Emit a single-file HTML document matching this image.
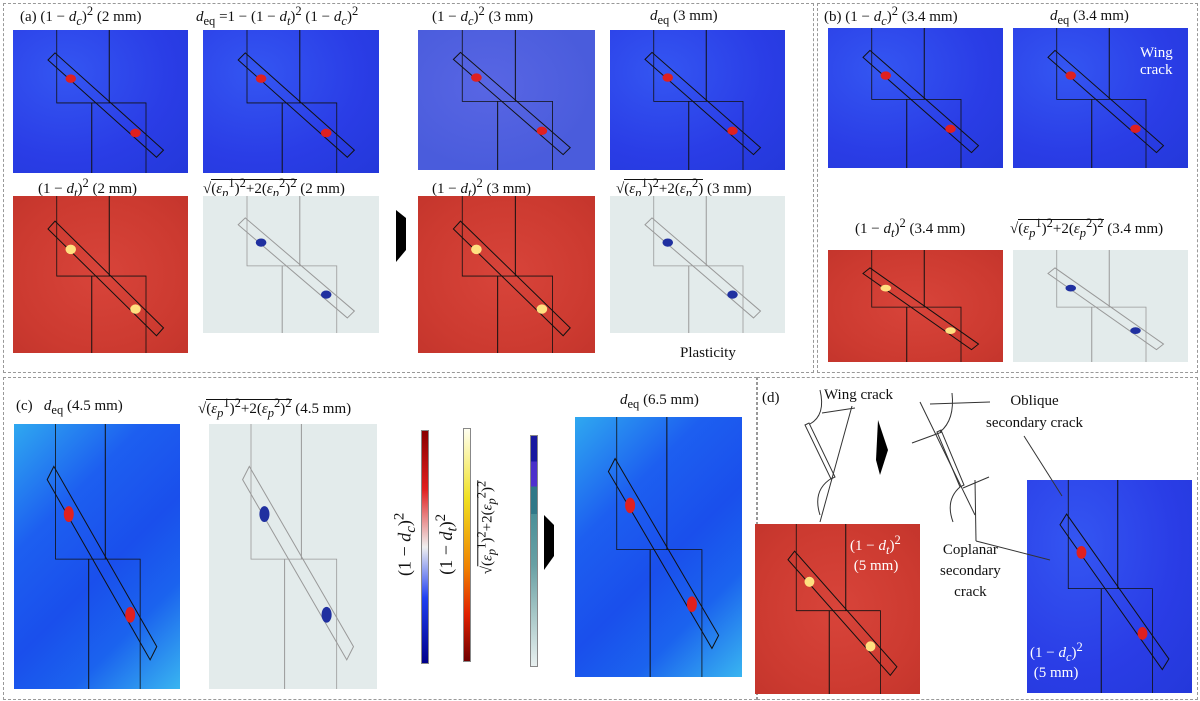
<!DOCTYPE html>
<html><head><meta charset="utf-8"><style>
body{margin:0;background:#fff;width:1200px;height:701px;position:relative;overflow:hidden;font-family:"Liberation Serif",serif;color:#111}
.box{position:absolute;border:1px dashed #999}
.img{position:absolute;overflow:hidden}
.img svg{position:absolute;left:0;top:0;width:100%;height:100%}
.t{position:absolute;font-size:15px;white-space:nowrap}
i{font-style:italic}
.rt{border-top:1px solid #111;padding-top:1px}
.blue{background:radial-gradient(ellipse at 30% 30%,#3456f2,#2a3de6 60%,#2438da)}
.blue2{background:radial-gradient(ellipse at 40% 40%,#5866e4,#4a5cdc 70%)}
.red{background:radial-gradient(ellipse at 50% 50%,#d8443a,#cc3a30 70%,#c4352c)}
.gray{background:#e3ebeb}
.cyan{background:linear-gradient(135deg,#2fa8f0 0%,#1d5ff0 30%,#1a4fec 55%,#1b63ee 75%,#39b5f0 100%)}
.cb{position:absolute;width:6px;border:1px solid #888}
</style></head><body>
<div class="box" style="left:3px;top:3px;width:809px;height:368px"></div>
<div class="box" style="left:817px;top:3px;width:379px;height:368px"></div>
<div class="box" style="left:3px;top:377px;width:752px;height:321px"></div>
<div class="box" style="left:757px;top:377px;width:439px;height:321px"></div>

<div class="t" style="left:20px;top:4px">(a) (1 − <i>d<sub>c</sub></i>)<sup>2</sup> (2 mm)</div>
<div class="t" style="left:196px;top:4px"><i>d</i><sub>eq</sub> =1 − (1 − <i>d<sub>t</sub></i>)<sup>2</sup> (1 − <i>d<sub>c</sub></i>)<sup>2</sup></div>
<div class="t" style="left:432px;top:4px">(1 − <i>d<sub>c</sub></i>)<sup>2</sup> (3 mm)</div>
<div class="t" style="left:650px;top:8px"><i>d</i><sub>eq</sub> (3 mm)</div>
<div class="t" style="left:38px;top:176px">(1 − <i>d<sub>t</sub></i>)<sup>2</sup> (2 mm)</div>
<div class="t" style="left:203px;top:176px">√<span class="rt">(<i>ε<sub>p</sub></i><sup>1</sup>)<sup>2</sup>+2(<i>ε<sub>p</sub></i><sup>2</sup>)<sup>2</sup></span> (2 mm)</div>
<div class="t" style="left:432px;top:176px">(1 − <i>d<sub>t</sub></i>)<sup>2</sup> (3 mm)</div>
<div class="t" style="left:616px;top:176px">√<span class="rt">(<i>ε<sub>p</sub></i><sup>1</sup>)<sup>2</sup>+2(<i>ε<sub>p</sub></i><sup>2</sup>)</span> (3 mm)</div>
<div class="t" style="left:680px;top:345px">Plasticity</div>

<div class="t" style="left:824px;top:4px">(b) (1 − <i>d<sub>c</sub></i>)<sup>2</sup> (3.4 mm)</div>
<div class="t" style="left:1050px;top:8px"><i>d</i><sub>eq</sub> (3.4 mm)</div>
<div class="t" style="left:855px;top:216px">(1 − <i>d<sub>t</sub></i>)<sup>2</sup> (3.4 mm)</div>
<div class="t" style="left:1010px;top:216px">√<span class="rt">(<i>ε<sub>p</sub></i><sup>1</sup>)<sup>2</sup>+2(<i>ε<sub>p</sub></i><sup>2</sup>)<sup>2</sup></span> (3.4 mm)</div>

<div class="t" style="left:16px;top:398px">(c) &nbsp;&nbsp;<i>d</i><sub>eq</sub> (4.5 mm)</div>
<div class="t" style="left:198px;top:396px">√<span class="rt">(<i>ε<sub>p</sub></i><sup>1</sup>)<sup>2</sup>+2(<i>ε<sub>p</sub></i><sup>2</sup>)<sup>2</sup></span> (4.5 mm)</div>
<div class="t" style="left:620px;top:392px"><i>d</i><sub>eq</sub> (6.5 mm)</div>

<div class="t" style="left:762px;top:390px">(d)</div>
<div class="t" style="left:824px;top:387px">Wing crack</div>
<div class="t" style="left:986px;top:390px;text-align:center;line-height:22px">Oblique<br>secondary crack</div>
<div class="t" style="left:940px;top:540px;text-align:center;line-height:21px">Coplanar<br>secondary<br>crack</div>

<div id="imgs"></div>

<div class="cb" style="left:421px;top:430px;height:232px;background:linear-gradient(#8a0000,#e02020 25%,#f0f0f0 50%,#2040f0 72%,#00008a)"></div>
<div class="cb" style="left:463px;top:428px;height:232px;background:linear-gradient(#fffff0,#f0e020 30%,#f08000 60%,#e02000 80%,#700000)"></div>
<div class="cb" style="left:530px;top:435px;height:230px;background:linear-gradient(#1818a0 0,#1818a0 11%,#4830c8 11%,#5030d0 22%,#307888 22%,#307888 34%,#4a9098 34%,#68a0a4 56%,#a8c8c8 78%,#e8f0f0)"></div>
<div class="t" style="left:374px;top:530px;font-size:18px;transform:rotate(-90deg)">(1 − <i>d<sub>c</sub></i>)<sup>2</sup></div>
<div class="t" style="left:417px;top:530px;font-size:18px;transform:rotate(-90deg)">(1 − <i>d<sub>t</sub></i>)<sup>2</sup></div>
<div class="t" style="left:440px;top:515px;font-size:15px;transform:rotate(-90deg)">√<span class="rt">(<i>ε<sub>p</sub></i><sup>1</sup>)<sup>2</sup>+2(<i>ε<sub>p</sub></i><sup>2</sup>)<sup>2</sup></span></div>

<svg width="1200" height="701" style="position:absolute;left:0;top:0">
<polygon points="396,210 406,218 406,250 396,262" fill="#000"/>
<polygon points="544,515 554,525 554,556 544,570" fill="#000"/>
<polygon points="878,420 888,450 880,475 876,460" fill="#000"/>
<g stroke="#333" fill="none" stroke-width="1">
<polygon points="805,425 809,423 835,477 831,479" fill="#fff"/>
<path d="M820,390 Q826,415 810,424"/><path d="M832,478 Q812,490 820,515"/>
<polygon points="937,432 941,430 964,485 960,487" fill="#fff"/>
<line x1="920" y1="402" x2="975" y2="515"/><line x1="912" y1="443" x2="942" y2="432"/>
<path d="M952,393 Q955,420 940,432"/><path d="M960,487 Q945,500 953,522"/>
<line x1="852" y1="406" x2="820" y2="522"/><line x1="855" y1="408" x2="822" y2="413"/>
<line x1="990" y1="402" x2="930" y2="404"/><line x1="1024" y1="436" x2="1062" y2="496"/>
<polyline points="976,541 975,480"/><line x1="976" y1="541" x2="1050" y2="560"/><line x1="963" y1="488" x2="989" y2="477"/>
</g>
</svg>

<script>
const panels=[
 ['img-a1','blue',13,30,175,143],['img-a2','blue',203,30,176,143],['img-a3','blue2',418,30,177,140],['img-a4','blue',610,30,175,140],
 ['img-a5','red',13,196,175,157],['img-a6','gray',203,196,176,137],['img-a7','red',418,196,177,157],['img-a8','gray',610,196,175,137],
 ['img-b1','blue',828,28,175,140],['img-b2','blue',1013,28,175,140],['img-b3','red',828,250,175,112],['img-b4','gray',1013,250,175,112],
 ['img-c1','cyan',14,424,166,265],['img-c2','gray',209,424,168,265],['img-c3','cyan',575,417,167,260],
 ['img-d1','red',755,524,165,170],['img-d2','blue',1027,480,165,213]
];
const host=document.getElementById('imgs');
const ns='http://www.w3.org/2000/svg';
panels.forEach(p=>{
 const d=document.createElement('div');
 d.className='img '+p[1];
 d.style.cssText=`left:${p[2]}px;top:${p[3]}px;width:${p[4]}px;height:${p[5]}px`;
 
 
 const s=document.createElementNS(ns,'svg');
 s.setAttribute('viewBox','0 0 100 100');
 s.setAttribute('preserveAspectRatio','none');
 const col=p[1]==='gray'?'#999':'#111';
 const dot=p[1]==='red'?'#ffe080':p[1]==='gray'?'#2030a0':'#e02020';
 s.innerHTML=`<polyline points="25,0 25,51 76,51 76,100" fill="none" stroke="${col}" stroke-width="0.8" vector-effect="non-scaling-stroke"/>
 <line x1="55" y1="0" x2="55" y2="51" stroke="${col}" vector-effect="non-scaling-stroke"/>
 <line x1="45" y1="51" x2="45" y2="100" stroke="${col}" vector-effect="non-scaling-stroke"/>
 <polygon points="20,21 24,16 86,84 82,89" fill="none" stroke="${col}" vector-effect="non-scaling-stroke"/>
 <circle cx="33" cy="34" r="3" fill="${dot}"/>
 <circle cx="70" cy="72" r="3" fill="${dot}"/>`;
 d.appendChild(s);
 host.appendChild(d);
});
</script>
<div class="t" style="left:850px;top:533px;color:#fff">(1 − <i>d<sub>t</sub></i>)<sup>2</sup><br>&nbsp;(5 mm)</div>
<div class="t" style="left:1030px;top:640px;color:#fff">(1 − <i>d<sub>c</sub></i>)<sup>2</sup><br>&nbsp;(5 mm)</div>
<div class="t" style="left:1140px;top:45px;color:#fff">Wing<br>crack</div>
</body></html>
